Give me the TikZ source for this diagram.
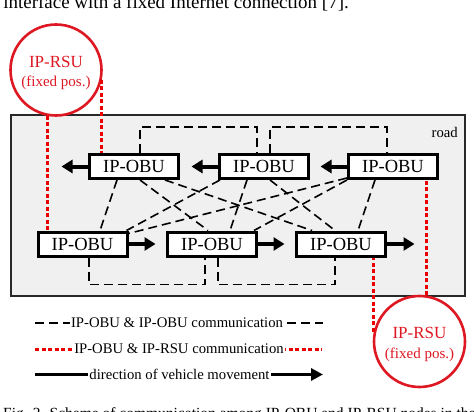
\documentclass[tikz,border=0pt]{standalone}
\usepackage{fontspec}
\setmainfont{Liberation Serif}
\usetikzlibrary{arrows.meta}
\definecolor{rsured}{RGB}{222,24,34}
\definecolor{dotred}{RGB}{235,0,0}
\definecolor{roadfill}{RGB}{240,240,240}
\definecolor{roadline}{RGB}{40,40,40}
\begin{document}
\begin{tikzpicture}[x=1pt,y=-1pt,
  obu/.style={draw=black, line width=3pt, fill=white, minimum width=89pt, minimum height=24pt, inner sep=0pt, font=\fontsize{18.5}{20}\selectfont},
  rsu/.style={circle, draw=rsured, line width=2.6pt, fill=white, minimum size=91pt, inner sep=0pt, text=rsured, align=center, font=\fontsize{15}{19.5}\selectfont},
  comm/.style={draw=black, line width=1.6pt, dash pattern=on 9pt off 5pt},
  rsulink/.style={draw=dotred, line width=3pt, dash pattern=on 4pt off 2.5pt},
  move/.style={draw=black, line width=4pt, -{Triangle[length=11pt,width=13pt]}},
  legtext/.style={fill=white, inner sep=1pt, font=\fontsize{14.7}{16}\selectfont},
  plain/.style={inner sep=0pt}
]
\useasboundingbox (0,0) rectangle (474,412);

% surrounding text (cropped)
\node[plain, anchor=base east, font=\fontsize{19}{22}\selectfont] (toptext) at (349,9) {interface with a fixed Internet connection [7].};
\node[plain, anchor=base west, font=\fontsize{15.5}{18}\selectfont] (caption) at (3,418) {Fig. 2. Scheme of communication among IP-OBU and IP-RSU nodes in the};

% road
\path[draw=roadline, fill=roadfill, line width=1.6pt] (11,115) rectangle (465,296);
\node[plain, anchor=base east, font=\fontsize{14.7}{16}\selectfont] (roadlabel) at (458,137) {road};

% OBU nodes
\node[obu] (o1) at (134,166.5) {IP-OBU};
\node[obu] (o2) at (264,166.5) {IP-OBU};
\node[obu] (o3) at (393,166.5) {IP-OBU};
\node[obu] (o4) at (82.5,244) {IP-OBU};
\node[obu] (o5) at (212,244) {IP-OBU};
\node[obu] (o6) at (341,244) {IP-OBU};

% OBU-OBU communication
\draw[comm] ([xshift=6pt]o1.north) -- ++(0,-26) -| ([xshift=-7pt]o2.north);
\draw[comm] ([xshift=6pt]o2.north) -- ++(0,-26) -| ([xshift=-6pt]o3.north);
\draw[comm] ([xshift=6.5pt]o4.south) -- ++(0,27) -| ([xshift=-7pt]o5.south);
\draw[comm] ([xshift=6pt]o5.south) -- ++(0,27) -| ([xshift=-6pt]o6.south);
\draw[comm] ([xshift=-17pt]o1.south) -- ([xshift=17.5pt]o4.north);
\draw[comm] ([xshift=6pt]o1.south) -- ([xshift=-4pt]o5.north);
\draw[comm] ([xshift=31pt]o1.south) -- ([xshift=-29pt]o6.north);
\draw[comm] ([xshift=-44pt]o2.south) -- ([xshift=44pt]o4.north);
\draw[comm] ([xshift=-17pt]o2.south) -- ([xshift=18pt]o5.north);
\draw[comm] ([xshift=6pt]o2.south) -- ([xshift=-6pt]o6.north);
\draw[comm] ([yshift=2pt]o3.south west) -- ([yshift=-3pt]o4.north east);
\draw[comm] (o3.south west) -- ([xshift=42pt]o5.north);
\draw[comm] ([xshift=-18pt]o3.south) -- ([xshift=17pt]o6.north);

% direction of movement
\draw[move] (o1.west) -- ++(-26.5,0);
\draw[move] (o2.west) -- ++(-26.5,0);
\draw[move] (o3.west) -- ++(-26.5,0);
\draw[move] (o4.east) -- ++(27,0);
\draw[move] (o5.east) -- ++(26.5,0);
\draw[move] (o6.east) -- ++(27.5,0);

% RSU nodes
\node[rsu] (r1) at (56,70) {{\fontsize{17}{19.5}\selectfont\rule{0pt}{17pt}IP-RSU}\\(fixed pos.)};
\node[rsu] (r2) at (419.5,341.5) {{\fontsize{17}{19.5}\selectfont\rule{0pt}{17pt}IP-RSU}\\(fixed pos.)};

% OBU-RSU communication
\draw[rsulink] (r1.259) -- (r1.259 |- o4.north);
\draw[rsulink] (r1.-12) -- (r1.-12 |- o1.north);
\draw[rsulink] (r2.168) -- (r2.168 |- o6.south);
\draw[rsulink] (r2.81) -- (r2.81 |- o3.south);

% legend
\coordinate (l1a) at (35,323); \coordinate (l1b) at (323,323);
\coordinate (l2a) at (35,349); \coordinate (l2b) at (322,349);
\coordinate (l3a) at (35,374.5); \coordinate (l3b) at (323,374.5);
\draw[comm] (l1a) -- (l1b);
\node[legtext] (lt1) at (177,323) {IP-OBU \& IP-OBU communication};
\draw[rsulink] (l2a) -- (l2b);
\node[legtext] (lt2) at (179,349) {IP-OBU \& IP-RSU communication};
\draw[move, line width=3pt, -{Triangle[length=12pt,width=12pt]}] (l3a) -- (l3b);
\node[legtext] (lt3) at (179.5,374.5) {direction of vehicle movement};
\end{tikzpicture}
\end{document}
